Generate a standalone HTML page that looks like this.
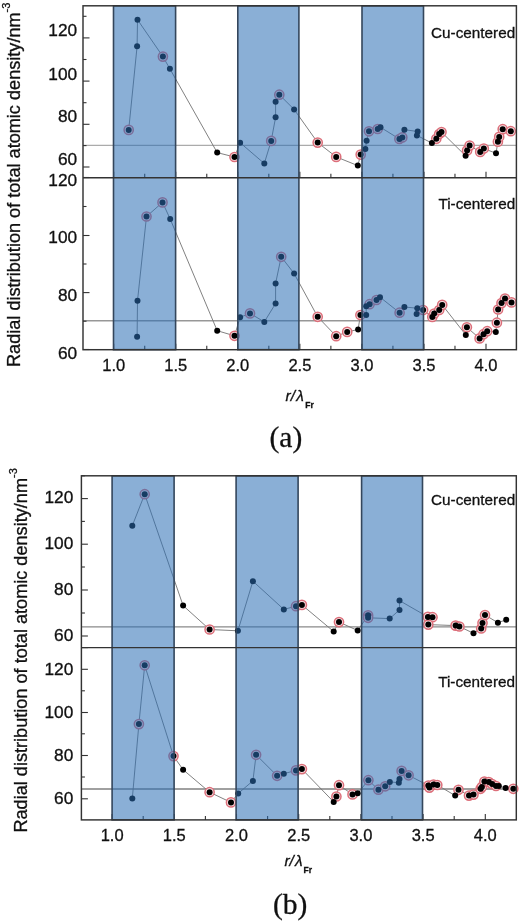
<!DOCTYPE html>
<html><head><meta charset="utf-8"><title>Radial distribution figure</title>
<style>
html,body{margin:0;padding:0;background:#fff;}
body{width:520px;height:921px;overflow:hidden;}
svg{display:block;filter:blur(0.35px);}
text{fill:#111;stroke:#111;stroke-width:0.3px;}
</style></head>
<body>
<svg width="520" height="921" viewBox="0 0 520 921">
<rect x="0" y="0" width="520" height="921" fill="#fff"/>
<line x1="83" y1="145.4" x2="516.4" y2="145.4" stroke="#ababab" stroke-width="1.3"/>
<line x1="83" y1="320.7" x2="516.4" y2="320.7" stroke="#979797" stroke-width="1.4"/>
<polyline points="128.7,129.9 137.1,46.3 137.5,19.7 162.9,56.6 169.9,68.8 217.2,152.6 234.5,157.0 240.1,142.7 264.3,163.5 271.2,140.9 275.6,117.3 275.6,101.8 279.3,94.7 294.1,109.4 317.7,142.6 336.2,156.9 357.8,165.6 360.7,154.6 365.4,149.0 366.6,140.8 369.0,131.3 377.7,129.0 380.5,127.3 399.4,139.0 402.3,137.4 404.4,129.7 417.7,131.5 416.9,135.4 431.9,143.1 436.3,138.8 439.2,134.0 441.5,132.1 465.6,155.8 467.1,150.4 469.6,145.6 480.2,151.9 483.8,148.5 496.0,153.3 497.9,141.7 499.2,136.9 502.7,129.2 510.8,131.2" fill="none" stroke="#737373" stroke-width="0.9"/>
<circle cx="128.7" cy="129.9" r="4.6" fill="#fae2e5" stroke="#dc6f7a" stroke-width="1.5"/>
<circle cx="162.9" cy="56.6" r="4.6" fill="#fae2e5" stroke="#dc6f7a" stroke-width="1.5"/>
<circle cx="234.5" cy="157.0" r="4.6" fill="#fae2e5" stroke="#dc6f7a" stroke-width="1.5"/>
<circle cx="271.2" cy="140.9" r="4.6" fill="#fae2e5" stroke="#dc6f7a" stroke-width="1.5"/>
<circle cx="279.3" cy="94.7" r="4.6" fill="#fae2e5" stroke="#dc6f7a" stroke-width="1.5"/>
<circle cx="317.7" cy="142.6" r="4.6" fill="#fae2e5" stroke="#dc6f7a" stroke-width="1.5"/>
<circle cx="336.2" cy="156.9" r="4.6" fill="#fae2e5" stroke="#dc6f7a" stroke-width="1.5"/>
<circle cx="360.7" cy="154.6" r="4.6" fill="#fae2e5" stroke="#dc6f7a" stroke-width="1.5"/>
<circle cx="369.0" cy="131.3" r="4.6" fill="#fae2e5" stroke="#dc6f7a" stroke-width="1.5"/>
<circle cx="377.7" cy="129.0" r="4.6" fill="#fae2e5" stroke="#dc6f7a" stroke-width="1.5"/>
<circle cx="399.4" cy="139.0" r="4.6" fill="#fae2e5" stroke="#dc6f7a" stroke-width="1.5"/>
<circle cx="402.3" cy="137.4" r="4.6" fill="#fae2e5" stroke="#dc6f7a" stroke-width="1.5"/>
<circle cx="436.3" cy="138.8" r="4.6" fill="#fae2e5" stroke="#dc6f7a" stroke-width="1.5"/>
<circle cx="439.2" cy="134.0" r="4.6" fill="#fae2e5" stroke="#dc6f7a" stroke-width="1.5"/>
<circle cx="441.5" cy="132.1" r="4.6" fill="#fae2e5" stroke="#dc6f7a" stroke-width="1.5"/>
<circle cx="467.1" cy="150.4" r="4.6" fill="#fae2e5" stroke="#dc6f7a" stroke-width="1.5"/>
<circle cx="469.6" cy="145.6" r="4.6" fill="#fae2e5" stroke="#dc6f7a" stroke-width="1.5"/>
<circle cx="480.2" cy="151.9" r="4.6" fill="#fae2e5" stroke="#dc6f7a" stroke-width="1.5"/>
<circle cx="483.8" cy="148.5" r="4.6" fill="#fae2e5" stroke="#dc6f7a" stroke-width="1.5"/>
<circle cx="497.9" cy="141.7" r="4.6" fill="#fae2e5" stroke="#dc6f7a" stroke-width="1.5"/>
<circle cx="499.2" cy="136.9" r="4.6" fill="#fae2e5" stroke="#dc6f7a" stroke-width="1.5"/>
<circle cx="502.7" cy="129.2" r="4.6" fill="#fae2e5" stroke="#dc6f7a" stroke-width="1.5"/>
<circle cx="510.8" cy="131.2" r="4.6" fill="#fae2e5" stroke="#dc6f7a" stroke-width="1.5"/>
<circle cx="128.7" cy="129.9" r="3.0" fill="#000"/>
<circle cx="137.1" cy="46.3" r="3.0" fill="#000"/>
<circle cx="137.5" cy="19.7" r="3.0" fill="#000"/>
<circle cx="162.9" cy="56.6" r="3.0" fill="#000"/>
<circle cx="169.9" cy="68.8" r="3.0" fill="#000"/>
<circle cx="217.2" cy="152.6" r="3.0" fill="#000"/>
<circle cx="234.5" cy="157.0" r="3.0" fill="#000"/>
<circle cx="240.1" cy="142.7" r="3.0" fill="#000"/>
<circle cx="264.3" cy="163.5" r="3.0" fill="#000"/>
<circle cx="271.2" cy="140.9" r="3.0" fill="#000"/>
<circle cx="275.6" cy="117.3" r="3.0" fill="#000"/>
<circle cx="275.6" cy="101.8" r="3.0" fill="#000"/>
<circle cx="279.3" cy="94.7" r="3.0" fill="#000"/>
<circle cx="294.1" cy="109.4" r="3.0" fill="#000"/>
<circle cx="317.7" cy="142.6" r="3.0" fill="#000"/>
<circle cx="336.2" cy="156.9" r="3.0" fill="#000"/>
<circle cx="357.8" cy="165.6" r="3.0" fill="#000"/>
<circle cx="360.7" cy="154.6" r="3.0" fill="#000"/>
<circle cx="365.4" cy="149.0" r="3.0" fill="#000"/>
<circle cx="366.6" cy="140.8" r="3.0" fill="#000"/>
<circle cx="369.0" cy="131.3" r="3.0" fill="#000"/>
<circle cx="377.7" cy="129.0" r="3.0" fill="#000"/>
<circle cx="380.5" cy="127.3" r="3.0" fill="#000"/>
<circle cx="399.4" cy="139.0" r="3.0" fill="#000"/>
<circle cx="402.3" cy="137.4" r="3.0" fill="#000"/>
<circle cx="404.4" cy="129.7" r="3.0" fill="#000"/>
<circle cx="417.7" cy="131.5" r="3.0" fill="#000"/>
<circle cx="416.9" cy="135.4" r="3.0" fill="#000"/>
<circle cx="431.9" cy="143.1" r="3.0" fill="#000"/>
<circle cx="436.3" cy="138.8" r="3.0" fill="#000"/>
<circle cx="439.2" cy="134.0" r="3.0" fill="#000"/>
<circle cx="441.5" cy="132.1" r="3.0" fill="#000"/>
<circle cx="465.6" cy="155.8" r="3.0" fill="#000"/>
<circle cx="467.1" cy="150.4" r="3.0" fill="#000"/>
<circle cx="469.6" cy="145.6" r="3.0" fill="#000"/>
<circle cx="480.2" cy="151.9" r="3.0" fill="#000"/>
<circle cx="483.8" cy="148.5" r="3.0" fill="#000"/>
<circle cx="496.0" cy="153.3" r="3.0" fill="#000"/>
<circle cx="497.9" cy="141.7" r="3.0" fill="#000"/>
<circle cx="499.2" cy="136.9" r="3.0" fill="#000"/>
<circle cx="502.7" cy="129.2" r="3.0" fill="#000"/>
<circle cx="510.8" cy="131.2" r="3.0" fill="#000"/>
<polyline points="137.1,336.7 137.5,300.7 146.5,216.5 162.5,202.4 170.2,219.0 217.2,330.7 234.5,335.8 240.1,317.3 250.0,313.4 264.3,321.9 275.6,303.5 275.6,283.4 281.2,256.8 294.1,273.5 317.7,316.8 336.2,336.2 347.2,331.9 358.1,329.5 360.4,315.0 366.2,315.0 366.2,306.2 369.6,304.2 376.5,300.0 380.0,297.2 399.6,312.7 404.4,307.0 417.3,308.2 416.6,313.9 423.1,310.0 432.3,316.9 434.2,313.5 439.2,310.0 442.2,304.9 465.8,334.9 466.9,327.3 479.6,338.4 483.5,334.2 487.2,331.2 495.8,331.9 496.9,322.7 498.1,309.5 501.5,303.1 505.0,298.5 511.5,302.4" fill="none" stroke="#737373" stroke-width="0.9"/>
<circle cx="146.5" cy="216.5" r="4.6" fill="#fae2e5" stroke="#dc6f7a" stroke-width="1.5"/>
<circle cx="162.5" cy="202.4" r="4.6" fill="#fae2e5" stroke="#dc6f7a" stroke-width="1.5"/>
<circle cx="234.5" cy="335.8" r="4.6" fill="#fae2e5" stroke="#dc6f7a" stroke-width="1.5"/>
<circle cx="250.0" cy="313.4" r="4.6" fill="#fae2e5" stroke="#dc6f7a" stroke-width="1.5"/>
<circle cx="281.2" cy="256.8" r="4.6" fill="#fae2e5" stroke="#dc6f7a" stroke-width="1.5"/>
<circle cx="317.7" cy="316.8" r="4.6" fill="#fae2e5" stroke="#dc6f7a" stroke-width="1.5"/>
<circle cx="336.2" cy="336.2" r="4.6" fill="#fae2e5" stroke="#dc6f7a" stroke-width="1.5"/>
<circle cx="347.2" cy="331.9" r="4.6" fill="#fae2e5" stroke="#dc6f7a" stroke-width="1.5"/>
<circle cx="360.4" cy="315.0" r="4.6" fill="#fae2e5" stroke="#dc6f7a" stroke-width="1.5"/>
<circle cx="369.6" cy="304.2" r="4.6" fill="#fae2e5" stroke="#dc6f7a" stroke-width="1.5"/>
<circle cx="376.5" cy="300.0" r="4.6" fill="#fae2e5" stroke="#dc6f7a" stroke-width="1.5"/>
<circle cx="399.6" cy="312.7" r="4.6" fill="#fae2e5" stroke="#dc6f7a" stroke-width="1.5"/>
<circle cx="423.1" cy="310.0" r="4.6" fill="#fae2e5" stroke="#dc6f7a" stroke-width="1.5"/>
<circle cx="432.3" cy="316.9" r="4.6" fill="#fae2e5" stroke="#dc6f7a" stroke-width="1.5"/>
<circle cx="434.2" cy="313.5" r="4.6" fill="#fae2e5" stroke="#dc6f7a" stroke-width="1.5"/>
<circle cx="439.2" cy="310.0" r="4.6" fill="#fae2e5" stroke="#dc6f7a" stroke-width="1.5"/>
<circle cx="442.2" cy="304.9" r="4.6" fill="#fae2e5" stroke="#dc6f7a" stroke-width="1.5"/>
<circle cx="466.9" cy="327.3" r="4.6" fill="#fae2e5" stroke="#dc6f7a" stroke-width="1.5"/>
<circle cx="479.6" cy="338.4" r="4.6" fill="#fae2e5" stroke="#dc6f7a" stroke-width="1.5"/>
<circle cx="483.5" cy="334.2" r="4.6" fill="#fae2e5" stroke="#dc6f7a" stroke-width="1.5"/>
<circle cx="487.2" cy="331.2" r="4.6" fill="#fae2e5" stroke="#dc6f7a" stroke-width="1.5"/>
<circle cx="496.9" cy="322.7" r="4.6" fill="#fae2e5" stroke="#dc6f7a" stroke-width="1.5"/>
<circle cx="498.1" cy="309.5" r="4.6" fill="#fae2e5" stroke="#dc6f7a" stroke-width="1.5"/>
<circle cx="501.5" cy="303.1" r="4.6" fill="#fae2e5" stroke="#dc6f7a" stroke-width="1.5"/>
<circle cx="505.0" cy="298.5" r="4.6" fill="#fae2e5" stroke="#dc6f7a" stroke-width="1.5"/>
<circle cx="511.5" cy="302.4" r="4.6" fill="#fae2e5" stroke="#dc6f7a" stroke-width="1.5"/>
<circle cx="137.1" cy="336.7" r="3.0" fill="#000"/>
<circle cx="137.5" cy="300.7" r="3.0" fill="#000"/>
<circle cx="146.5" cy="216.5" r="3.0" fill="#000"/>
<circle cx="162.5" cy="202.4" r="3.0" fill="#000"/>
<circle cx="170.2" cy="219.0" r="3.0" fill="#000"/>
<circle cx="217.2" cy="330.7" r="3.0" fill="#000"/>
<circle cx="234.5" cy="335.8" r="3.0" fill="#000"/>
<circle cx="240.1" cy="317.3" r="3.0" fill="#000"/>
<circle cx="250.0" cy="313.4" r="3.0" fill="#000"/>
<circle cx="264.3" cy="321.9" r="3.0" fill="#000"/>
<circle cx="275.6" cy="303.5" r="3.0" fill="#000"/>
<circle cx="275.6" cy="283.4" r="3.0" fill="#000"/>
<circle cx="281.2" cy="256.8" r="3.0" fill="#000"/>
<circle cx="294.1" cy="273.5" r="3.0" fill="#000"/>
<circle cx="317.7" cy="316.8" r="3.0" fill="#000"/>
<circle cx="336.2" cy="336.2" r="3.0" fill="#000"/>
<circle cx="347.2" cy="331.9" r="3.0" fill="#000"/>
<circle cx="358.1" cy="329.5" r="3.0" fill="#000"/>
<circle cx="360.4" cy="315.0" r="3.0" fill="#000"/>
<circle cx="366.2" cy="315.0" r="3.0" fill="#000"/>
<circle cx="366.2" cy="306.2" r="3.0" fill="#000"/>
<circle cx="369.6" cy="304.2" r="3.0" fill="#000"/>
<circle cx="376.5" cy="300.0" r="3.0" fill="#000"/>
<circle cx="380.0" cy="297.2" r="3.0" fill="#000"/>
<circle cx="399.6" cy="312.7" r="3.0" fill="#000"/>
<circle cx="404.4" cy="307.0" r="3.0" fill="#000"/>
<circle cx="417.3" cy="308.2" r="3.0" fill="#000"/>
<circle cx="416.6" cy="313.9" r="3.0" fill="#000"/>
<circle cx="423.1" cy="310.0" r="3.0" fill="#000"/>
<circle cx="432.3" cy="316.9" r="3.0" fill="#000"/>
<circle cx="434.2" cy="313.5" r="3.0" fill="#000"/>
<circle cx="439.2" cy="310.0" r="3.0" fill="#000"/>
<circle cx="442.2" cy="304.9" r="3.0" fill="#000"/>
<circle cx="465.8" cy="334.9" r="3.0" fill="#000"/>
<circle cx="466.9" cy="327.3" r="3.0" fill="#000"/>
<circle cx="479.6" cy="338.4" r="3.0" fill="#000"/>
<circle cx="483.5" cy="334.2" r="3.0" fill="#000"/>
<circle cx="487.2" cy="331.2" r="3.0" fill="#000"/>
<circle cx="495.8" cy="331.9" r="3.0" fill="#000"/>
<circle cx="496.9" cy="322.7" r="3.0" fill="#000"/>
<circle cx="498.1" cy="309.5" r="3.0" fill="#000"/>
<circle cx="501.5" cy="303.1" r="3.0" fill="#000"/>
<circle cx="505.0" cy="298.5" r="3.0" fill="#000"/>
<circle cx="511.5" cy="302.4" r="3.0" fill="#000"/>
<line x1="83" y1="16.3" x2="86.5" y2="16.3" stroke="#333333" stroke-width="1.1"/>
<line x1="83" y1="37.9" x2="89.5" y2="37.9" stroke="#333333" stroke-width="1.1"/>
<line x1="83" y1="59.5" x2="86.5" y2="59.5" stroke="#333333" stroke-width="1.1"/>
<line x1="83" y1="81.1" x2="89.5" y2="81.1" stroke="#333333" stroke-width="1.1"/>
<line x1="83" y1="102.7" x2="86.5" y2="102.7" stroke="#333333" stroke-width="1.1"/>
<line x1="83" y1="124.3" x2="89.5" y2="124.3" stroke="#333333" stroke-width="1.1"/>
<line x1="83" y1="145.6" x2="86.5" y2="145.6" stroke="#333333" stroke-width="1.1"/>
<line x1="83" y1="167.0" x2="89.5" y2="167.0" stroke="#333333" stroke-width="1.1"/>
<line x1="83" y1="177.5" x2="89.5" y2="177.5" stroke="#333333" stroke-width="1.1"/>
<line x1="83" y1="206.5" x2="86.5" y2="206.5" stroke="#333333" stroke-width="1.1"/>
<line x1="83" y1="235.5" x2="89.5" y2="235.5" stroke="#333333" stroke-width="1.1"/>
<line x1="83" y1="264.0" x2="86.5" y2="264.0" stroke="#333333" stroke-width="1.1"/>
<line x1="83" y1="292.6" x2="89.5" y2="292.6" stroke="#333333" stroke-width="1.1"/>
<line x1="83" y1="321.2" x2="86.5" y2="321.2" stroke="#333333" stroke-width="1.1"/>
<line x1="83" y1="349.5" x2="89.5" y2="349.5" stroke="#333333" stroke-width="1.1"/>
<line x1="113.7" y1="177.7" x2="113.7" y2="171.7" stroke="#333333" stroke-width="1.1"/>
<line x1="113.7" y1="349.7" x2="113.7" y2="343.7" stroke="#333333" stroke-width="1.1"/>
<line x1="144.725" y1="177.7" x2="144.725" y2="173.7" stroke="#333333" stroke-width="1.1"/>
<line x1="144.725" y1="349.7" x2="144.725" y2="345.7" stroke="#333333" stroke-width="1.1"/>
<line x1="175.75" y1="177.7" x2="175.75" y2="171.7" stroke="#333333" stroke-width="1.1"/>
<line x1="175.75" y1="349.7" x2="175.75" y2="343.7" stroke="#333333" stroke-width="1.1"/>
<line x1="206.77499999999998" y1="177.7" x2="206.77499999999998" y2="173.7" stroke="#333333" stroke-width="1.1"/>
<line x1="206.77499999999998" y1="349.7" x2="206.77499999999998" y2="345.7" stroke="#333333" stroke-width="1.1"/>
<line x1="237.8" y1="177.7" x2="237.8" y2="171.7" stroke="#333333" stroke-width="1.1"/>
<line x1="237.8" y1="349.7" x2="237.8" y2="343.7" stroke="#333333" stroke-width="1.1"/>
<line x1="268.825" y1="177.7" x2="268.825" y2="173.7" stroke="#333333" stroke-width="1.1"/>
<line x1="268.825" y1="349.7" x2="268.825" y2="345.7" stroke="#333333" stroke-width="1.1"/>
<line x1="299.84999999999997" y1="177.7" x2="299.84999999999997" y2="171.7" stroke="#333333" stroke-width="1.1"/>
<line x1="299.84999999999997" y1="349.7" x2="299.84999999999997" y2="343.7" stroke="#333333" stroke-width="1.1"/>
<line x1="330.875" y1="177.7" x2="330.875" y2="173.7" stroke="#333333" stroke-width="1.1"/>
<line x1="330.875" y1="349.7" x2="330.875" y2="345.7" stroke="#333333" stroke-width="1.1"/>
<line x1="361.9" y1="177.7" x2="361.9" y2="171.7" stroke="#333333" stroke-width="1.1"/>
<line x1="361.9" y1="349.7" x2="361.9" y2="343.7" stroke="#333333" stroke-width="1.1"/>
<line x1="392.92499999999995" y1="177.7" x2="392.92499999999995" y2="173.7" stroke="#333333" stroke-width="1.1"/>
<line x1="392.92499999999995" y1="349.7" x2="392.92499999999995" y2="345.7" stroke="#333333" stroke-width="1.1"/>
<line x1="423.95" y1="177.7" x2="423.95" y2="171.7" stroke="#333333" stroke-width="1.1"/>
<line x1="423.95" y1="349.7" x2="423.95" y2="343.7" stroke="#333333" stroke-width="1.1"/>
<line x1="454.97499999999997" y1="177.7" x2="454.97499999999997" y2="173.7" stroke="#333333" stroke-width="1.1"/>
<line x1="454.97499999999997" y1="349.7" x2="454.97499999999997" y2="345.7" stroke="#333333" stroke-width="1.1"/>
<line x1="485.99999999999994" y1="177.7" x2="485.99999999999994" y2="171.7" stroke="#333333" stroke-width="1.1"/>
<line x1="485.99999999999994" y1="349.7" x2="485.99999999999994" y2="343.7" stroke="#333333" stroke-width="1.1"/>
<rect x="113.5" y="5.8" width="62.099999999999994" height="343.9" fill="rgba(42,110,180,0.55)" stroke="#34465c" stroke-width="1.6"/>
<rect x="237.8" y="5.8" width="61.099999999999966" height="343.9" fill="rgba(42,110,180,0.55)" stroke="#34465c" stroke-width="1.6"/>
<rect x="362.0" y="5.8" width="61.5" height="343.9" fill="rgba(42,110,180,0.55)" stroke="#34465c" stroke-width="1.6"/>
<rect x="83" y="5.8" width="433.4" height="343.9" fill="none" stroke="#333333" stroke-width="1.45"/>
<line x1="83" y1="177.7" x2="516.4" y2="177.7" stroke="#333333" stroke-width="1.45"/>
<text x="77.2" y="36.0" font-size="17.3" text-anchor="end" font-family="'Liberation Sans',Arial,sans-serif" >120</text>
<text x="77.2" y="79.7" font-size="17.3" text-anchor="end" font-family="'Liberation Sans',Arial,sans-serif" >100</text>
<text x="77.2" y="122.2" font-size="17.3" text-anchor="end" font-family="'Liberation Sans',Arial,sans-serif" >80</text>
<text x="77.2" y="165.2" font-size="17.3" text-anchor="end" font-family="'Liberation Sans',Arial,sans-serif" >60</text>
<text x="77.2" y="186.4" font-size="17.3" text-anchor="end" font-family="'Liberation Sans',Arial,sans-serif" >120</text>
<text x="77.2" y="243.2" font-size="17.3" text-anchor="end" font-family="'Liberation Sans',Arial,sans-serif" >100</text>
<text x="77.2" y="301.0" font-size="17.3" text-anchor="end" font-family="'Liberation Sans',Arial,sans-serif" >80</text>
<text x="77.2" y="358.6" font-size="17.3" text-anchor="end" font-family="'Liberation Sans',Arial,sans-serif" >60</text>
<text x="431.0" y="37.7" font-size="15.3" text-anchor="start" font-family="'Liberation Sans',Arial,sans-serif" >Cu-centered</text>
<text x="438.4" y="209.2" font-size="15.3" text-anchor="start" font-family="'Liberation Sans',Arial,sans-serif" >Ti-centered</text>
<text x="113.7" y="370.8" font-size="16.5" text-anchor="middle" font-family="'Liberation Sans',Arial,sans-serif" >1.0</text>
<text x="175.75" y="370.8" font-size="16.5" text-anchor="middle" font-family="'Liberation Sans',Arial,sans-serif" >1.5</text>
<text x="237.8" y="370.8" font-size="16.5" text-anchor="middle" font-family="'Liberation Sans',Arial,sans-serif" >2.0</text>
<text x="299.84999999999997" y="370.8" font-size="16.5" text-anchor="middle" font-family="'Liberation Sans',Arial,sans-serif" >2.5</text>
<text x="361.9" y="370.8" font-size="16.5" text-anchor="middle" font-family="'Liberation Sans',Arial,sans-serif" >3.0</text>
<text x="423.95" y="370.8" font-size="16.5" text-anchor="middle" font-family="'Liberation Sans',Arial,sans-serif" >3.5</text>
<text x="485.99999999999994" y="370.8" font-size="16.5" text-anchor="middle" font-family="'Liberation Sans',Arial,sans-serif" >4.0</text>
<line x1="81.4" y1="626.8" x2="516.3" y2="626.8" stroke="#8a8a8a" stroke-width="1.3"/>
<line x1="81.4" y1="788.9" x2="516.3" y2="788.9" stroke="#808080" stroke-width="1.5"/>
<polyline points="132.3,525.7 144.7,494.2 183.1,605.6 209.6,629.5 237.9,630.8 252.9,581.2 283.8,609.4 296.0,606.2 301.9,604.9 333.7,631.5 339.0,622.1 357.7,630.5 368.1,615.3 368.1,617.8 389.7,618.6 399.5,609.9 399.5,600.6 427.9,616.9 432.5,617.2 428.3,624.6 455.6,625.6 459.4,626.5 473.5,633.3 481.2,628.5 482.5,623.1 485.0,615.0 497.9,622.7 506.2,619.8" fill="none" stroke="#737373" stroke-width="0.9"/>
<circle cx="144.7" cy="494.2" r="4.6" fill="#fae2e5" stroke="#dc6f7a" stroke-width="1.5"/>
<circle cx="209.6" cy="629.5" r="4.6" fill="#fae2e5" stroke="#dc6f7a" stroke-width="1.5"/>
<circle cx="296.0" cy="606.2" r="4.6" fill="#fae2e5" stroke="#dc6f7a" stroke-width="1.5"/>
<circle cx="301.9" cy="604.9" r="4.6" fill="#fae2e5" stroke="#dc6f7a" stroke-width="1.5"/>
<circle cx="339.0" cy="622.1" r="4.6" fill="#fae2e5" stroke="#dc6f7a" stroke-width="1.5"/>
<circle cx="368.1" cy="615.3" r="4.6" fill="#fae2e5" stroke="#dc6f7a" stroke-width="1.5"/>
<circle cx="368.1" cy="617.8" r="4.6" fill="#fae2e5" stroke="#dc6f7a" stroke-width="1.5"/>
<circle cx="427.9" cy="616.9" r="4.6" fill="#fae2e5" stroke="#dc6f7a" stroke-width="1.5"/>
<circle cx="432.5" cy="617.2" r="4.6" fill="#fae2e5" stroke="#dc6f7a" stroke-width="1.5"/>
<circle cx="428.3" cy="624.6" r="4.6" fill="#fae2e5" stroke="#dc6f7a" stroke-width="1.5"/>
<circle cx="455.6" cy="625.6" r="4.6" fill="#fae2e5" stroke="#dc6f7a" stroke-width="1.5"/>
<circle cx="459.4" cy="626.5" r="4.6" fill="#fae2e5" stroke="#dc6f7a" stroke-width="1.5"/>
<circle cx="481.2" cy="628.5" r="4.6" fill="#fae2e5" stroke="#dc6f7a" stroke-width="1.5"/>
<circle cx="482.5" cy="623.1" r="4.6" fill="#fae2e5" stroke="#dc6f7a" stroke-width="1.5"/>
<circle cx="485.0" cy="615.0" r="4.6" fill="#fae2e5" stroke="#dc6f7a" stroke-width="1.5"/>
<circle cx="132.3" cy="525.7" r="3.0" fill="#000"/>
<circle cx="144.7" cy="494.2" r="3.0" fill="#000"/>
<circle cx="183.1" cy="605.6" r="3.0" fill="#000"/>
<circle cx="209.6" cy="629.5" r="3.0" fill="#000"/>
<circle cx="237.9" cy="630.8" r="3.0" fill="#000"/>
<circle cx="252.9" cy="581.2" r="3.0" fill="#000"/>
<circle cx="283.8" cy="609.4" r="3.0" fill="#000"/>
<circle cx="296.0" cy="606.2" r="3.0" fill="#000"/>
<circle cx="301.9" cy="604.9" r="3.0" fill="#000"/>
<circle cx="333.7" cy="631.5" r="3.0" fill="#000"/>
<circle cx="339.0" cy="622.1" r="3.0" fill="#000"/>
<circle cx="357.7" cy="630.5" r="3.0" fill="#000"/>
<circle cx="368.1" cy="615.3" r="3.0" fill="#000"/>
<circle cx="368.1" cy="617.8" r="3.0" fill="#000"/>
<circle cx="389.7" cy="618.6" r="3.0" fill="#000"/>
<circle cx="399.5" cy="609.9" r="3.0" fill="#000"/>
<circle cx="399.5" cy="600.6" r="3.0" fill="#000"/>
<circle cx="427.9" cy="616.9" r="3.0" fill="#000"/>
<circle cx="432.5" cy="617.2" r="3.0" fill="#000"/>
<circle cx="428.3" cy="624.6" r="3.0" fill="#000"/>
<circle cx="455.6" cy="625.6" r="3.0" fill="#000"/>
<circle cx="459.4" cy="626.5" r="3.0" fill="#000"/>
<circle cx="473.5" cy="633.3" r="3.0" fill="#000"/>
<circle cx="481.2" cy="628.5" r="3.0" fill="#000"/>
<circle cx="482.5" cy="623.1" r="3.0" fill="#000"/>
<circle cx="485.0" cy="615.0" r="3.0" fill="#000"/>
<circle cx="497.9" cy="622.7" r="3.0" fill="#000"/>
<circle cx="506.2" cy="619.8" r="3.0" fill="#000"/>
<polyline points="132.3,798.5 138.9,724.1 144.7,665.3 173.5,756.1 183.1,769.7 209.6,792.2 231.0,802.4 238.2,793.4 252.9,780.9 256.1,754.8 277.1,775.8 283.8,773.7 296.0,770.4 301.9,769.1 333.7,801.9 336.4,796.5 339.0,785.2 352.5,794.4 357.7,793.3 368.4,780.2 378.4,789.7 385.2,786.3 389.8,781.9 398.8,782.7 399.5,779.1 401.6,770.9 408.6,775.3 428.4,785.5 429.4,787.6 433.5,784.6 437.3,785.0 455.2,795.6 458.5,789.8 469.0,795.6 473.5,794.6 480.6,788.8 481.9,786.9 484.4,781.5 488.8,782.1 492.1,784.0 496.0,786.0 498.8,786.0 505.6,787.9 513.3,788.8" fill="none" stroke="#737373" stroke-width="0.9"/>
<circle cx="138.9" cy="724.1" r="4.6" fill="#fae2e5" stroke="#dc6f7a" stroke-width="1.5"/>
<circle cx="144.7" cy="665.3" r="4.6" fill="#fae2e5" stroke="#dc6f7a" stroke-width="1.5"/>
<circle cx="173.5" cy="756.1" r="4.6" fill="#fae2e5" stroke="#dc6f7a" stroke-width="1.5"/>
<circle cx="209.6" cy="792.2" r="4.6" fill="#fae2e5" stroke="#dc6f7a" stroke-width="1.5"/>
<circle cx="231.0" cy="802.4" r="4.6" fill="#fae2e5" stroke="#dc6f7a" stroke-width="1.5"/>
<circle cx="256.1" cy="754.8" r="4.6" fill="#fae2e5" stroke="#dc6f7a" stroke-width="1.5"/>
<circle cx="277.1" cy="775.8" r="4.6" fill="#fae2e5" stroke="#dc6f7a" stroke-width="1.5"/>
<circle cx="296.0" cy="770.4" r="4.6" fill="#fae2e5" stroke="#dc6f7a" stroke-width="1.5"/>
<circle cx="301.9" cy="769.1" r="4.6" fill="#fae2e5" stroke="#dc6f7a" stroke-width="1.5"/>
<circle cx="336.4" cy="796.5" r="4.6" fill="#fae2e5" stroke="#dc6f7a" stroke-width="1.5"/>
<circle cx="339.0" cy="785.2" r="4.6" fill="#fae2e5" stroke="#dc6f7a" stroke-width="1.5"/>
<circle cx="352.5" cy="794.4" r="4.6" fill="#fae2e5" stroke="#dc6f7a" stroke-width="1.5"/>
<circle cx="368.4" cy="780.2" r="4.6" fill="#fae2e5" stroke="#dc6f7a" stroke-width="1.5"/>
<circle cx="378.4" cy="789.7" r="4.6" fill="#fae2e5" stroke="#dc6f7a" stroke-width="1.5"/>
<circle cx="385.2" cy="786.3" r="4.6" fill="#fae2e5" stroke="#dc6f7a" stroke-width="1.5"/>
<circle cx="401.6" cy="770.9" r="4.6" fill="#fae2e5" stroke="#dc6f7a" stroke-width="1.5"/>
<circle cx="408.6" cy="775.3" r="4.6" fill="#fae2e5" stroke="#dc6f7a" stroke-width="1.5"/>
<circle cx="428.4" cy="785.5" r="4.6" fill="#fae2e5" stroke="#dc6f7a" stroke-width="1.5"/>
<circle cx="429.4" cy="787.6" r="4.6" fill="#fae2e5" stroke="#dc6f7a" stroke-width="1.5"/>
<circle cx="433.5" cy="784.6" r="4.6" fill="#fae2e5" stroke="#dc6f7a" stroke-width="1.5"/>
<circle cx="437.3" cy="785.0" r="4.6" fill="#fae2e5" stroke="#dc6f7a" stroke-width="1.5"/>
<circle cx="458.5" cy="789.8" r="4.6" fill="#fae2e5" stroke="#dc6f7a" stroke-width="1.5"/>
<circle cx="469.0" cy="795.6" r="4.6" fill="#fae2e5" stroke="#dc6f7a" stroke-width="1.5"/>
<circle cx="473.5" cy="794.6" r="4.6" fill="#fae2e5" stroke="#dc6f7a" stroke-width="1.5"/>
<circle cx="480.6" cy="788.8" r="4.6" fill="#fae2e5" stroke="#dc6f7a" stroke-width="1.5"/>
<circle cx="481.9" cy="786.9" r="4.6" fill="#fae2e5" stroke="#dc6f7a" stroke-width="1.5"/>
<circle cx="484.4" cy="781.5" r="4.6" fill="#fae2e5" stroke="#dc6f7a" stroke-width="1.5"/>
<circle cx="488.8" cy="782.1" r="4.6" fill="#fae2e5" stroke="#dc6f7a" stroke-width="1.5"/>
<circle cx="492.1" cy="784.0" r="4.6" fill="#fae2e5" stroke="#dc6f7a" stroke-width="1.5"/>
<circle cx="496.0" cy="786.0" r="4.6" fill="#fae2e5" stroke="#dc6f7a" stroke-width="1.5"/>
<circle cx="513.3" cy="788.8" r="4.6" fill="#fae2e5" stroke="#dc6f7a" stroke-width="1.5"/>
<circle cx="132.3" cy="798.5" r="3.0" fill="#000"/>
<circle cx="138.9" cy="724.1" r="3.0" fill="#000"/>
<circle cx="144.7" cy="665.3" r="3.0" fill="#000"/>
<circle cx="173.5" cy="756.1" r="3.0" fill="#000"/>
<circle cx="183.1" cy="769.7" r="3.0" fill="#000"/>
<circle cx="209.6" cy="792.2" r="3.0" fill="#000"/>
<circle cx="231.0" cy="802.4" r="3.0" fill="#000"/>
<circle cx="238.2" cy="793.4" r="3.0" fill="#000"/>
<circle cx="252.9" cy="780.9" r="3.0" fill="#000"/>
<circle cx="256.1" cy="754.8" r="3.0" fill="#000"/>
<circle cx="277.1" cy="775.8" r="3.0" fill="#000"/>
<circle cx="283.8" cy="773.7" r="3.0" fill="#000"/>
<circle cx="296.0" cy="770.4" r="3.0" fill="#000"/>
<circle cx="301.9" cy="769.1" r="3.0" fill="#000"/>
<circle cx="333.7" cy="801.9" r="3.0" fill="#000"/>
<circle cx="336.4" cy="796.5" r="3.0" fill="#000"/>
<circle cx="339.0" cy="785.2" r="3.0" fill="#000"/>
<circle cx="352.5" cy="794.4" r="3.0" fill="#000"/>
<circle cx="357.7" cy="793.3" r="3.0" fill="#000"/>
<circle cx="368.4" cy="780.2" r="3.0" fill="#000"/>
<circle cx="378.4" cy="789.7" r="3.0" fill="#000"/>
<circle cx="385.2" cy="786.3" r="3.0" fill="#000"/>
<circle cx="389.8" cy="781.9" r="3.0" fill="#000"/>
<circle cx="398.8" cy="782.7" r="3.0" fill="#000"/>
<circle cx="399.5" cy="779.1" r="3.0" fill="#000"/>
<circle cx="401.6" cy="770.9" r="3.0" fill="#000"/>
<circle cx="408.6" cy="775.3" r="3.0" fill="#000"/>
<circle cx="428.4" cy="785.5" r="3.0" fill="#000"/>
<circle cx="429.4" cy="787.6" r="3.0" fill="#000"/>
<circle cx="433.5" cy="784.6" r="3.0" fill="#000"/>
<circle cx="437.3" cy="785.0" r="3.0" fill="#000"/>
<circle cx="455.2" cy="795.6" r="3.0" fill="#000"/>
<circle cx="458.5" cy="789.8" r="3.0" fill="#000"/>
<circle cx="469.0" cy="795.6" r="3.0" fill="#000"/>
<circle cx="473.5" cy="794.6" r="3.0" fill="#000"/>
<circle cx="480.6" cy="788.8" r="3.0" fill="#000"/>
<circle cx="481.9" cy="786.9" r="3.0" fill="#000"/>
<circle cx="484.4" cy="781.5" r="3.0" fill="#000"/>
<circle cx="488.8" cy="782.1" r="3.0" fill="#000"/>
<circle cx="492.1" cy="784.0" r="3.0" fill="#000"/>
<circle cx="496.0" cy="786.0" r="3.0" fill="#000"/>
<circle cx="498.8" cy="786.0" r="3.0" fill="#000"/>
<circle cx="505.6" cy="787.9" r="3.0" fill="#000"/>
<circle cx="513.3" cy="788.8" r="3.0" fill="#000"/>
<line x1="81.4" y1="475.8" x2="84.9" y2="475.8" stroke="#333333" stroke-width="1.1"/>
<line x1="81.4" y1="498.6" x2="87.9" y2="498.6" stroke="#333333" stroke-width="1.1"/>
<line x1="81.4" y1="521.4" x2="84.9" y2="521.4" stroke="#333333" stroke-width="1.1"/>
<line x1="81.4" y1="544.2" x2="87.9" y2="544.2" stroke="#333333" stroke-width="1.1"/>
<line x1="81.4" y1="567.0" x2="84.9" y2="567.0" stroke="#333333" stroke-width="1.1"/>
<line x1="81.4" y1="590.0" x2="87.9" y2="590.0" stroke="#333333" stroke-width="1.1"/>
<line x1="81.4" y1="613.0" x2="84.9" y2="613.0" stroke="#333333" stroke-width="1.1"/>
<line x1="81.4" y1="636.0" x2="87.9" y2="636.0" stroke="#333333" stroke-width="1.1"/>
<line x1="81.4" y1="647.6" x2="87.9" y2="647.6" stroke="#333333" stroke-width="1.1"/>
<line x1="81.4" y1="669.3" x2="87.9" y2="669.3" stroke="#333333" stroke-width="1.1"/>
<line x1="81.4" y1="690.8" x2="84.9" y2="690.8" stroke="#333333" stroke-width="1.1"/>
<line x1="81.4" y1="712.5" x2="87.9" y2="712.5" stroke="#333333" stroke-width="1.1"/>
<line x1="81.4" y1="733.8" x2="84.9" y2="733.8" stroke="#333333" stroke-width="1.1"/>
<line x1="81.4" y1="755.5" x2="87.9" y2="755.5" stroke="#333333" stroke-width="1.1"/>
<line x1="81.4" y1="777.0" x2="84.9" y2="777.0" stroke="#333333" stroke-width="1.1"/>
<line x1="81.4" y1="798.8" x2="87.9" y2="798.8" stroke="#333333" stroke-width="1.1"/>
<line x1="112.1" y1="819.9" x2="112.1" y2="813.9" stroke="#333333" stroke-width="1.1"/>
<line x1="143.2" y1="819.9" x2="143.2" y2="815.9" stroke="#333333" stroke-width="1.1"/>
<line x1="174.3" y1="819.9" x2="174.3" y2="813.9" stroke="#333333" stroke-width="1.1"/>
<line x1="205.4" y1="819.9" x2="205.4" y2="815.9" stroke="#333333" stroke-width="1.1"/>
<line x1="236.5" y1="819.9" x2="236.5" y2="813.9" stroke="#333333" stroke-width="1.1"/>
<line x1="267.6" y1="819.9" x2="267.6" y2="815.9" stroke="#333333" stroke-width="1.1"/>
<line x1="298.70000000000005" y1="819.9" x2="298.70000000000005" y2="813.9" stroke="#333333" stroke-width="1.1"/>
<line x1="329.8" y1="819.9" x2="329.8" y2="815.9" stroke="#333333" stroke-width="1.1"/>
<line x1="360.9" y1="819.9" x2="360.9" y2="813.9" stroke="#333333" stroke-width="1.1"/>
<line x1="392.0" y1="819.9" x2="392.0" y2="815.9" stroke="#333333" stroke-width="1.1"/>
<line x1="423.1" y1="819.9" x2="423.1" y2="813.9" stroke="#333333" stroke-width="1.1"/>
<line x1="454.20000000000005" y1="819.9" x2="454.20000000000005" y2="815.9" stroke="#333333" stroke-width="1.1"/>
<line x1="485.30000000000007" y1="819.9" x2="485.30000000000007" y2="813.9" stroke="#333333" stroke-width="1.1"/>
<rect x="112.1" y="475.8" width="62.0" height="344.09999999999997" fill="rgba(42,110,180,0.55)" stroke="#34465c" stroke-width="1.6"/>
<rect x="236.1" y="475.8" width="62.00000000000003" height="344.09999999999997" fill="rgba(42,110,180,0.55)" stroke="#34465c" stroke-width="1.6"/>
<rect x="361.6" y="475.8" width="60.89999999999998" height="344.09999999999997" fill="rgba(42,110,180,0.55)" stroke="#34465c" stroke-width="1.6"/>
<rect x="81.4" y="475.8" width="434.9" height="344.09999999999997" fill="none" stroke="#333333" stroke-width="1.45"/>
<line x1="81.4" y1="647.6" x2="516.3" y2="647.6" stroke="#333333" stroke-width="1.45"/>
<text x="73.3" y="503.2" font-size="17.3" text-anchor="end" font-family="'Liberation Sans',Arial,sans-serif" >120</text>
<text x="73.3" y="548.9" font-size="17.3" text-anchor="end" font-family="'Liberation Sans',Arial,sans-serif" >100</text>
<text x="73.3" y="594.7" font-size="17.3" text-anchor="end" font-family="'Liberation Sans',Arial,sans-serif" >80</text>
<text x="73.3" y="640.5" font-size="17.3" text-anchor="end" font-family="'Liberation Sans',Arial,sans-serif" >60</text>
<text x="73.3" y="675.0" font-size="17.3" text-anchor="end" font-family="'Liberation Sans',Arial,sans-serif" >120</text>
<text x="73.3" y="718.0" font-size="17.3" text-anchor="end" font-family="'Liberation Sans',Arial,sans-serif" >100</text>
<text x="73.3" y="761.0" font-size="17.3" text-anchor="end" font-family="'Liberation Sans',Arial,sans-serif" >80</text>
<text x="73.3" y="804.0" font-size="17.3" text-anchor="end" font-family="'Liberation Sans',Arial,sans-serif" >60</text>
<text x="431.0" y="504.9" font-size="15.3" text-anchor="start" font-family="'Liberation Sans',Arial,sans-serif" >Cu-centered</text>
<text x="438.2" y="686.6" font-size="15.3" text-anchor="start" font-family="'Liberation Sans',Arial,sans-serif" >Ti-centered</text>
<text x="112.1" y="841.0" font-size="16.5" text-anchor="middle" font-family="'Liberation Sans',Arial,sans-serif" >1.0</text>
<text x="174.3" y="841.0" font-size="16.5" text-anchor="middle" font-family="'Liberation Sans',Arial,sans-serif" >1.5</text>
<text x="236.5" y="841.0" font-size="16.5" text-anchor="middle" font-family="'Liberation Sans',Arial,sans-serif" >2.0</text>
<text x="298.70000000000005" y="841.0" font-size="16.5" text-anchor="middle" font-family="'Liberation Sans',Arial,sans-serif" >2.5</text>
<text x="360.9" y="841.0" font-size="16.5" text-anchor="middle" font-family="'Liberation Sans',Arial,sans-serif" >3.0</text>
<text x="423.1" y="841.0" font-size="16.5" text-anchor="middle" font-family="'Liberation Sans',Arial,sans-serif" >3.5</text>
<text x="485.30000000000007" y="841.0" font-size="16.5" text-anchor="middle" font-family="'Liberation Sans',Arial,sans-serif" >4.0</text>
<text transform="translate(19.8,367.0) rotate(-90)" font-size="18.14" font-family="'Liberation Sans',Arial,sans-serif">Radial distribution of total atomic density/nm<tspan font-size="11" dy="-9.5">-3</tspan></text>
<text transform="translate(26.8,832.6) rotate(-90)" font-size="18.14" font-family="'Liberation Sans',Arial,sans-serif">Radial distribution of total atomic density/nm<tspan font-size="11" dy="-9.5">-3</tspan></text>
<text x="285.6" y="401.2" font-family="'Liberation Sans',Arial,sans-serif" font-style="italic" font-size="15.5">r/<tspan dx="1.2">&#955;</tspan></text>
<text x="305.2" y="407.59999999999997" font-family="'Liberation Sans',Arial,sans-serif" font-weight="bold" font-size="8.5">Fr</text>
<text x="284.4" y="866.3" font-family="'Liberation Sans',Arial,sans-serif" font-style="italic" font-size="15.5">r/<tspan dx="1.2">&#955;</tspan></text>
<text x="303.6" y="872.6999999999999" font-family="'Liberation Sans',Arial,sans-serif" font-weight="bold" font-size="8.5">Fr</text>
<text x="285.9" y="447.4" font-size="29.5" text-anchor="middle" font-family="'Liberation Serif','Times New Roman',serif" >(a)</text>
<text x="290.1" y="913.5" font-size="29.5" text-anchor="middle" font-family="'Liberation Serif','Times New Roman',serif" >(b)</text>
</svg>
</body></html>
